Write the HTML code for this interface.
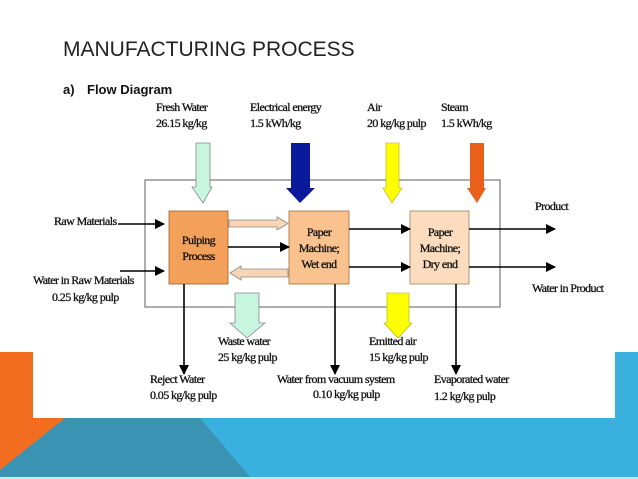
<!DOCTYPE html>
<html><head><style>
html,body{margin:0;padding:0;background:#fff;}
svg{display:block;}
.t{font-family:"Liberation Serif",serif;font-size:12px;fill:#111;stroke:#111;stroke-width:0.3;letter-spacing:-0.6px;}
</style></head><body>
<svg width="638" height="479" viewBox="0 0 638 479" xmlns="http://www.w3.org/2000/svg">
<defs>
<marker id="ah" markerWidth="10" markerHeight="10" refX="9" refY="5" orient="auto" markerUnits="userSpaceOnUse"><path d="M0,0 L10,5 L0,10 z" fill="#000"/></marker>
</defs>
<rect width="638" height="479" fill="#fff"/>
<rect x="0" y="352" width="33" height="127" fill="#f36d21"/>
<rect x="615" y="352" width="23" height="127" fill="#3ab0de"/>
<rect x="0" y="418" width="638" height="61" fill="#3ab0de"/>
<polygon points="0,479 0,470 65,418 200,418 250,477 250,479" fill="#3a93b2"/>
<polygon points="0,418 65,418 0,470" fill="#f36d21"/>
<rect x="0" y="477" width="638" height="2" fill="#cfe6ee"/>
<rect x="33" y="352" width="582" height="66" fill="#fff"/>
<text x="63" y="56" font-family="Liberation Sans, sans-serif" font-size="21" fill="#222">MANUFACTURING PROCESS</text>
<text x="63" y="94" font-family="Liberation Sans, sans-serif" font-size="13" font-weight="bold" fill="#111">a)</text>
<text x="87" y="94" font-family="Liberation Sans, sans-serif" font-size="13" font-weight="bold" fill="#111">Flow Diagram</text>
<rect x="145" y="180" width="355" height="127" fill="none" stroke="#777" stroke-width="1.2"/>
<polygon points="196,143 210,143 210,187 212,187 203,203 192,187 196,187" fill="#c8f5e0" stroke="#888" stroke-width="0.8"/>
<polygon points="291,143 310,143 310,188 315,188 300,203 286,188 291,188" fill="#0a1a9a"/>
<polygon points="386,143 399,143 399,188 402,188 392,203 383,188 386,188" fill="#ffff00" stroke="#aa0" stroke-width="0.6"/>
<polygon points="470,143 484,143 484,188 486,188 477,203 467,188 470,188" fill="#e8601a"/>
<rect x="169" y="211" width="59" height="73" fill="#f3a05a" stroke="#a0602a" stroke-width="0.8"/>
<rect x="289" y="211" width="60" height="73" fill="#f9c28e" stroke="#a0703a" stroke-width="0.8"/>
<rect x="410" y="211" width="59" height="73" fill="#fbdcbf" stroke="#a0805a" stroke-width="0.8"/>
<text class="t" x="198.5" y="244" text-anchor="middle">Pulping</text>
<text class="t" x="198.5" y="260" text-anchor="middle">Process</text>
<text class="t" x="319" y="236" text-anchor="middle">Paper</text>
<text class="t" x="319" y="252" text-anchor="middle">Machine;</text>
<text class="t" x="319" y="268" text-anchor="middle">Wet end</text>
<text class="t" x="440" y="236" text-anchor="middle">Paper</text>
<text class="t" x="440" y="252" text-anchor="middle">Machine;</text>
<text class="t" x="440" y="268" text-anchor="middle">Dry end</text>
<polygon points="229,220 277,220 277,217 288,223.5 277,230 277,227 229,227" fill="#f9d5b5" stroke="#888" stroke-width="0.8"/>
<polygon points="288,269 241,269 241,266 230,273 241,280 241,277 288,277" fill="#f9d5b5" stroke="#888" stroke-width="0.8"/>
<g stroke="#000" stroke-width="1.6" fill="none" marker-end="url(#ah)">
<line x1="228" y1="247" x2="289" y2="247"/>
<line x1="349" y1="229" x2="410" y2="229"/>
<line x1="349" y1="267" x2="410" y2="267"/>
<line x1="469" y1="229" x2="555" y2="229"/>
<line x1="469" y1="267" x2="555" y2="267"/>
<line x1="118" y1="224" x2="164" y2="224"/>
<line x1="120" y1="271" x2="164" y2="271"/>
<line x1="184" y1="284" x2="184" y2="374"/>
<line x1="335" y1="284" x2="335" y2="374"/>
<line x1="456" y1="284" x2="456" y2="374"/>
</g>
<polygon points="235,293 259,293 259,323 265,323 247,338 230,323 235,323" fill="#c8f5e0" stroke="#888" stroke-width="0.8"/>
<polygon points="387,293 409,293 409,323 412,323 398,338 384,323 387,323" fill="#ffff00" stroke="#aa0" stroke-width="0.6"/>
<text class="t" x="156" y="111">Fresh Water</text>
<text class="t" x="156" y="127">26.15 kg/kg</text>
<text class="t" x="250" y="111">Electrical energy</text>
<text class="t" x="250" y="127">1.5 kWh/kg</text>
<text class="t" x="367" y="111">Air</text>
<text class="t" x="367" y="127">20 kg/kg pulp</text>
<text class="t" x="441" y="111">Steam</text>
<text class="t" x="441" y="127">1.5 kWh/kg</text>
<text class="t" x="535" y="210">Product</text>
<text class="t" x="532" y="292">Water in Product</text>
<text class="t" x="54" y="225">Raw Materials</text>
<text class="t" x="33" y="284">Water in Raw Materials</text>
<text class="t" x="52" y="301">0.25 kg/kg pulp</text>
<text class="t" x="218" y="345">Waste water</text>
<text class="t" x="218" y="361">25 kg/kg pulp</text>
<text class="t" x="369" y="345">Emitted air</text>
<text class="t" x="369" y="361">15 kg/kg pulp</text>
<text class="t" x="150" y="383">Reject Water</text>
<text class="t" x="150" y="399">0.05 kg/kg pulp</text>
<text class="t" x="277" y="383">Water from vacuum system</text>
<text class="t" x="313" y="398">0.10 kg/kg pulp</text>
<text class="t" x="434" y="383">Evaporated water</text>
<text class="t" x="434" y="400">1.2 kg/kg pulp</text>
</svg>
</body></html>
